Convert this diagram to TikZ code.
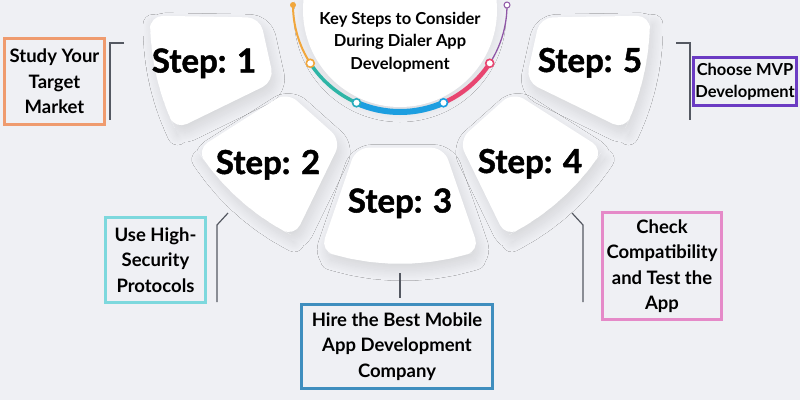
\documentclass[tikz,border=0pt]{standalone}
\usepackage{fontspec}
\setmainfont{Lato}
\newfontfamily\stepfont{Lato}[BoldFeatures={FakeBold=1.4}]
\usetikzlibrary{shadows.blur}

\newlength{\du}
\setlength{\du}{1pt}

\definecolor{bgcolor}{rgb}{0.937, 0.941, 0.957}
\definecolor{bracketgray}{rgb}{0.330, 0.345, 0.380}
\definecolor{arcorange}{rgb}{0.945, 0.655, 0.240}
\definecolor{arcteal}{rgb}{0.180, 0.710, 0.650}
\definecolor{arcblue}{rgb}{0.110, 0.620, 0.880}
\definecolor{arcpink}{rgb}{0.910, 0.270, 0.440}
\definecolor{arcpurple}{rgb}{0.560, 0.340, 0.650}
\definecolor{boxorange}{rgb}{0.937, 0.608, 0.431}
\definecolor{boxcyan}{rgb}{0.490, 0.847, 0.867}
\definecolor{boxblue}{rgb}{0.247, 0.557, 0.745}
\definecolor{boxpink}{rgb}{0.898, 0.541, 0.784}
\definecolor{boxpurple}{rgb}{0.420, 0.231, 0.765}

\tikzset{
  piece/.style={fill=white, rounded corners=13\du,
    blur shadow={shadow xshift=3\du, shadow yshift=-7\du, shadow blur radius=10\du,
      shadow opacity=11, shadow blur steps=20}},
  steplabel/.style={anchor=base, inner sep=0pt,
    font=\stepfont\bfseries\fontsize{33}{36}\selectfont},
  notebox/.style={draw, line width=3\du, fill=bgcolor, align=center, inner sep=0pt,
    font=\bfseries\fontsize{18.5}{25.5}\selectfont},
  bracket/.style={draw=bracketgray, line width=1.2\du},
  arcmark/.style={circle, draw, fill=white, line width=1.6\du, inner sep=0pt, minimum size=8\du},
}

\begin{document}
\begin{tikzpicture}
\pgftransformxscale{1.000000}
\pgftransformyscale{-1.000000}
\useasboundingbox (0\du,0\du) rectangle (800\du,400\du);
\fill[bgcolor] (0\du,0\du) rectangle (800\du,400\du);

% title disc
\fill[white, blur shadow={shadow xshift=0\du, shadow yshift=-6\du, shadow blur radius=9\du,
  shadow opacity=8, shadow blur steps=20}] (400\du,10\du) circle (97\du);

% coloured arc under the title
\begin{scope}[shift={(400\du,5\du)}]
\draw[arcorange, line width=2\du] (180:107\du) arc[start angle=180, end angle=147, radius=107\du];
\draw[arcteal, line width=3.5\du] (147:107\du) arc[start angle=147, end angle=114, radius=107\du];
\draw[arcblue, line width=6\du] (114:107\du) arc[start angle=114, end angle=66, radius=107\du];
\draw[arcpink, line width=4.5\du] (66:107\du) arc[start angle=66, end angle=33, radius=107\du];
\draw[arcpurple, line width=1.3\du] (33:107\du) arc[start angle=33, end angle=0, radius=107\du];
\fill[arcorange] (180:107\du) circle (3\du);
\node[arcmark, draw=arcorange] (m1) at (147:107\du) {};
\node[arcmark, draw=arcteal!60!arcblue] (m2) at (114:107\du) {};
\node[arcmark, draw=arcblue] (m3) at (66:107\du) {};
\node[arcmark, draw=arcpink] (m4) at (33:107\du) {};
\node[arcmark, draw=arcpurple, line width=1\du, minimum size=6\du] (m5) at (0:107\du) {};
\end{scope}

% setfont title
\node[align=center, font=\bfseries\fontsize{16.5}{22.5}\selectfont] (title) at (400\du,42\du)
  {Key Steps to Consider\\During Dialer App\\Development};

% the five pieces
\begin{scope}[shift={(400\du,20\du)}]
\foreach \a/\b/\ri/\ro in {154/181/140/250, 116/147.5/134/241, 71/109/135/244,
                            32.5/64/134/241, -1/26/140/250}{
  \path[piece] (\a:\ri\du) -- plot[domain=\a:\b, samples=9] (\x:\ro\du) -- (\b:\ri\du) -- cycle;
}
\end{scope}

\node[steplabel] (step1) at (204\du,72.5\du) {Step: 1};
\node[steplabel] (step2) at (268\du,174\du) {Step: 2};
\node[steplabel] (step3) at (400\du,212.5\du) {Step: 3};
\node[steplabel] (step4) at (530\du,173\du) {Step: 4};
\node[steplabel] (step5) at (590\du,72\du) {Step: 5};

% notes
\node[notebox, draw=boxorange, minimum width=100\du, minimum height=86\du] (note1)
  at (54.5\du,81.5\du) {Study Your\\Target\\Market};
\node[notebox, draw=boxcyan, minimum width=100\du, minimum height=85\du] (note2)
  at (155.5\du,260\du) {Use High-\\Security\\Protocols};
\node[notebox, draw=boxblue, minimum width=191\du, minimum height=84\du] (note3)
  at (397\du,346.5\du) {Hire the Best Mobile\\App Development\\Company};
\node[notebox, draw=boxpink, minimum width=119\du, minimum height=107\du] (note4)
  at (662\du,266\du) {Check\\Compatibility\\and Test the\\App};
\node[notebox, draw=boxpurple, minimum width=103\du, minimum height=48\du,
  font=\bfseries\fontsize{16.5}{21.5}\selectfont] (note5)
  at (745\du,81.5\du) {Choose MVP\\Development};

% brackets
\coordinate (b1a) at (124\du,43\du);
\coordinate (b1b) at (110\du,43\du);
\coordinate (b1c) at (110\du,120\du);
\coordinate (b2a) at (228\du,213\du);
\coordinate (b2b) at (217\du,225\du);
\coordinate (b2c) at (217\du,302\du);
\coordinate (b3a) at (400\du,273\du);
\coordinate (b3b) at (400\du,298\du);
\coordinate (b4a) at (572\du,213\du);
\coordinate (b4b) at (583\du,225\du);
\coordinate (b4c) at (583\du,302\du);
\coordinate (b5a) at (676\du,43\du);
\coordinate (b5b) at (690\du,43\du);
\coordinate (b5c) at (690\du,120\du);
\draw[bracket] (b1a) -- (b1b) -- (b1c);
\draw[bracket] (b2a) -- (b2b) -- (b2c);
\draw[bracket] (b3a) -- (b3b);
\draw[bracket] (b4a) -- (b4b) -- (b4c);
\draw[bracket] (b5a) -- (b5b) -- (b5c);
\end{tikzpicture}
\end{document}
